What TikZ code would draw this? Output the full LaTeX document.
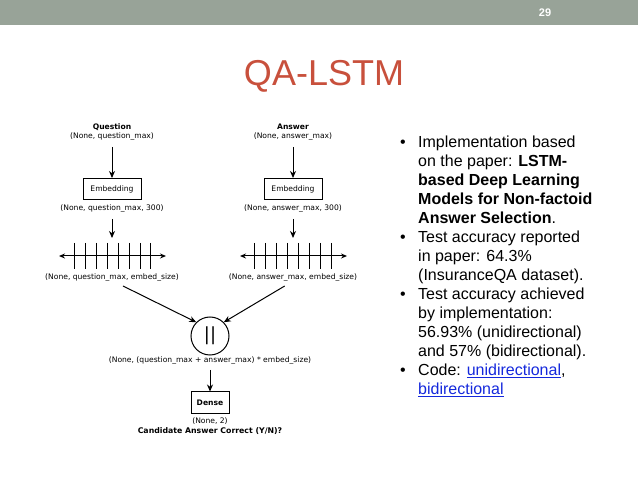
\documentclass[tikz,border=0pt]{standalone}
\usepackage{fontspec}
\setmainfont{Liberation Sans}
\newfontfamily\djv{DejaVu Sans}
\usetikzlibrary{arrows.meta}
\definecolor{bar}{RGB}{152,163,152}
\definecolor{ttl}{RGB}{200,80,60}
\definecolor{lnk}{RGB}{20,40,220}
\begin{document}
\begin{tikzpicture}[x=1pt,y=-1pt,
  lab/.style={font=\djv\fontsize{7.6}{9}\selectfont, inner sep=0pt},
  box/.style={draw, line width=1pt, font=\djv\fontsize{7.6}{9}\selectfont, inner sep=0pt},
  arr/.style={-{Stealth[length=7pt,width=6pt]}, line width=1pt},
  txt/.style={font=\fontsize{16}{19}\selectfont, anchor=base west, inner sep=0pt},
  bul/.style={font=\fontsize{16}{19}\selectfont, anchor=base, inner sep=0pt}]
\useasboundingbox (0,0) rectangle (638,478);
\fill[bar] (0,0) rectangle (638,25);
\node[font=\bfseries\fontsize{11}{13}\selectfont, text=white] (pg) at (545,13) {29};
\node[font=\fontsize{36}{40}\selectfont, text=ttl] (title) at (324,76) {QA-LSTM};
% question branch
\node[lab,font=\djv\bfseries\fontsize{7.6}{9}\selectfont] (q) at (112,127) {Question};
\node[lab] (qs) at (112,137) {(None, question\_max)};
\node[box, minimum width=58pt, minimum height=21pt] (qe) at (112,189) {Embedding};
\node[lab] (qes) at (112,209) {(None, question\_max, 300)};
\coordinate (ql) at (59,256); \coordinate (qr) at (166,256);
\coordinate (qt) at (112,238);
\node[lab] (qls) at (112,278) {(None, question\_max, embed\_size)};
% answer branch
\node[lab,font=\djv\bfseries\fontsize{7.6}{9}\selectfont] (a) at (293,127) {Answer};
\node[lab] (as) at (293,137) {(None, answer\_max)};
\node[box, minimum width=58pt, minimum height=21pt] (ae) at (293,189) {Embedding};
\node[lab] (aes) at (293,209) {(None, answer\_max, 300)};
\coordinate (al) at (240,256); \coordinate (ar) at (347,256);
\coordinate (at) at (293,238);
\node[lab] (als) at (293,278) {(None, answer\_max, embed\_size)};
% merge
\node[draw, circle, line width=1pt, minimum size=38pt, inner sep=0pt, font=\djv\fontsize{18}{18}\selectfont] (m) at (210,336) {||};
\node[lab] (ms) at (210,361) {(None, (question\_max + answer\_max) * embed\_size)};
\node[box, minimum width=38pt, minimum height=22pt, font=\djv\bfseries\fontsize{7.6}{9}\selectfont] (d) at (210,403) {Dense};
\node[lab] (ds) at (210,421) {(None, 2)};
\node[lab,font=\djv\bfseries\fontsize{7.8}{9}\selectfont] (dc) at (210,431) {Candidate Answer Correct (Y/N)?};
% connectors
\draw[arr] (qs.south) ++(0,6) -- (qe.north);
\draw[arr] (qes.south) ++(0,6) -- (qt);
\draw[arr] (as.south) ++(0,6) -- (ae.north);
\draw[arr] (aes.south) ++(0,6) -- (at);
\draw[{Stealth[length=6pt,width=5pt]}-{Stealth[length=6pt,width=5pt]}, line width=1pt] (ql) -- (qr);
\draw[{Stealth[length=6pt,width=5pt]}-{Stealth[length=6pt,width=5pt]}, line width=1pt] (al) -- (ar);
\foreach \x in {74,85,96,107,118,129,140,150} \draw[line width=1pt] (\x,243) -- (\x,269);
\foreach \x in {254,265,276,287,298,309,320,331} \draw[line width=1pt] (\x,243) -- (\x,269);
\draw[arr] (qls.south east) ++(-56,4) -- (m.north west);
\draw[arr] (als.south west) ++(56,4) -- (m.north east);
\draw[arr] (ms.south) ++(0,5) -- (d.north);
% bullets
\foreach \y in {148,243,300,376} \node[bul] at (403,\y) {•};
\node[txt] (t1) at (418,148) {Implementation based};
\node[txt] (t2) at (418,167) {on the paper: \textbf{LSTM-}};
\node[txt] (t3) at (418,186) {\textbf{based Deep Learning}};
\node[txt] (t4) at (418,205) {\textbf{Models for Non-factoid}};
\node[txt] (t5) at (418,224) {\textbf{Answer Selection}.};
\node[txt] (t6) at (418,243) {Test accuracy reported};
\node[txt] (t7) at (418,262) {in paper: 64.3\%};
\node[txt] (t8) at (418,281) {(InsuranceQA dataset).};
\node[txt] (t9) at (418,300) {Test accuracy achieved};
\node[txt] (t10) at (418,319) {by implementation:};
\node[txt] (t11) at (418,338) {56.93\% (unidirectional)};
\node[txt] (t12) at (418,357) {and 57\% (bidirectional).};
\node[txt] (t13) at (418,376) {Code: \textcolor{lnk}{\underline{unidirectional}},};
\node[txt] (t14) at (418,395) {\textcolor{lnk}{\underline{bidirectional}}};
\end{tikzpicture}
\end{document}
